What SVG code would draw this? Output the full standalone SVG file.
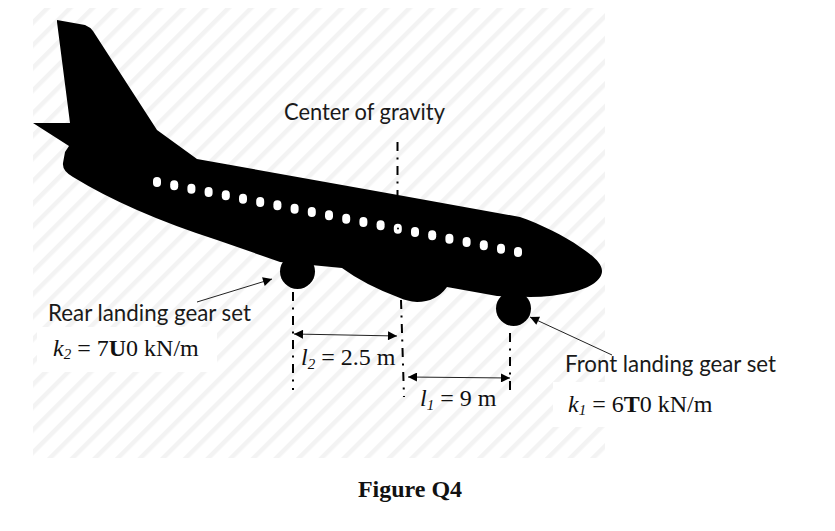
<svg xmlns="http://www.w3.org/2000/svg" width="835" height="531" viewBox="0 0 835 531">
<style>
.cal{font-family:"Lato","Open Sans",sans-serif;font-size:23px;fill:#1a1a1a}
.tim{font-family:"Liberation Serif",serif;font-size:24px;fill:#111}
.dd{stroke:#000;stroke-width:2;fill:none;stroke-dasharray:9 6.500 2 6.500}
.ar{stroke:#222;stroke-width:1;fill:none;marker-end:url(#a)}
.ar2{stroke:#222;stroke-width:1;fill:none;marker-start:url(#b);marker-end:url(#a)}
.win{fill:#fff}
</style>
<defs>
<marker id="a" viewBox="0 0 10 10" refX="10" refY="5" markerWidth="11" markerHeight="9" markerUnits="userSpaceOnUse" orient="auto"><path d="M0 0L10 5L0 10z" fill="#000"/></marker>
<marker id="b" viewBox="0 0 10 10" refX="0" refY="5" markerWidth="11" markerHeight="9" markerUnits="userSpaceOnUse" orient="auto"><path d="M10 0L0 5L10 10z" fill="#000"/></marker>
<pattern id="h" width="16" height="16" patternUnits="userSpaceOnUse" patternTransform="rotate(-45 33 8)"><rect width="16" height="16" fill="#fff"/><rect y="0" width="16" height="4.500" fill="#f3f3f3"/></pattern>
</defs>
<rect width="835" height="531" fill="#fff"/>
<rect x="33" y="8" width="572" height="450" fill="url(#h)"/>
<rect x="37" y="327" width="180" height="45" fill="#fff"/>
<rect x="553" y="382" width="60" height="45" fill="#fff"/>
<g id="airplane">
<path fill="#000" d="M57 20L85 25Q90 27 93 31L157 130L197 159L398 195L520 217C540 224 565 236 580 247C592 255 602 263 602 271C602 280 590 288 573 292C560 295 545 297 530 297L497 296L447 287Q436 302 417 302Q407 301 400 298Q365 285 342 268L280 262L217 240Q130 212 73 177Q62 171 63 163L65 152L69 146L33 123L70 123L57 22Z"/>
<circle cx="297.500" cy="271.500" r="17.500"/>
<circle cx="513.500" cy="308.500" r="17.500"/>
<g id="windows" class="win">
<rect x="153" y="177" width="8" height="10" rx="4"/><rect x="170.200" y="180.300" width="8" height="10" rx="4"/><rect x="187.400" y="183.700" width="8" height="10" rx="4"/><rect x="204.600" y="187" width="8" height="10" rx="4"/><rect x="221.800" y="190.300" width="8" height="10" rx="4"/><rect x="239" y="193.700" width="8" height="10" rx="4"/><rect x="256.200" y="197" width="8" height="10" rx="4"/><rect x="273.400" y="200.300" width="8" height="10" rx="4"/><rect x="290.600" y="203.700" width="8" height="10" rx="4"/><rect x="307.800" y="207" width="8" height="10" rx="4"/><rect x="325" y="210.300" width="8" height="10" rx="4"/><rect x="342.200" y="213.700" width="8" height="10" rx="4"/><rect x="359.400" y="217" width="8" height="10" rx="4"/><rect x="376.600" y="220.300" width="8" height="10" rx="4"/><rect x="393.800" y="223.700" width="8" height="10" rx="4"/><rect x="411" y="227" width="8" height="10" rx="4"/><rect x="428.200" y="230.300" width="8" height="10" rx="4"/><rect x="445.400" y="233.700" width="8" height="10" rx="4"/><rect x="462.600" y="237" width="8" height="10" rx="4"/><rect x="479.800" y="240.300" width="8" height="10" rx="4"/><rect x="497" y="243.700" width="8" height="10" rx="4"/><rect x="514" y="247" width="8" height="10" rx="4"/>
</g>
<circle cx="398" cy="228.500" r="1"/>
</g>
<g id="connectors">
<path class="dd" d="M397.500 142V195"/>
<path class="dd" d="M293 292V390"/>
<path class="dd" d="M401 300L404 397"/>
<path class="dd" d="M510 333V391"/>
<path class="ar" d="M197 302L272 279"/>
<path class="ar" d="M612 355L530 317"/>
<path class="ar2" d="M294 334L397 336"/>
<path class="ar2" d="M408 377L510 378"/>
</g>
<g id="labels">
<text class="cal" x="284" y="120" textLength="161" lengthAdjust="spacingAndGlyphs">Center of gravity</text>
<text class="cal" x="48" y="321" textLength="203" lengthAdjust="spacingAndGlyphs">Rear landing gear set</text>
<text class="cal" x="565" y="372" textLength="211" lengthAdjust="spacingAndGlyphs">Front landing gear set</text>
<text class="tim" x="53" y="356"><tspan font-style="italic">k<tspan font-size="15" dy="3">2</tspan></tspan><tspan dy="-3"> = 7</tspan><tspan font-weight="bold">U</tspan>0 kN/m</text>
<text class="tim" x="568" y="412"><tspan font-style="italic">k<tspan font-size="15" dy="3">1</tspan></tspan><tspan dy="-3"> = 6</tspan><tspan font-weight="bold">T</tspan>0 kN/m</text>
<text class="tim" x="301" y="365"><tspan font-style="italic">l<tspan font-size="15" dy="4">2</tspan></tspan><tspan dy="-4"> = 2.5 m</tspan></text>
<text class="tim" x="420" y="406"><tspan font-style="italic">l<tspan font-size="15" dy="4">1</tspan></tspan><tspan dy="-4"> = 9 m</tspan></text>
<text x="410" y="497" text-anchor="middle" font-family="Liberation Serif,serif" font-size="24" font-weight="bold" fill="#111">Figure Q4</text>
</g>
</svg>
